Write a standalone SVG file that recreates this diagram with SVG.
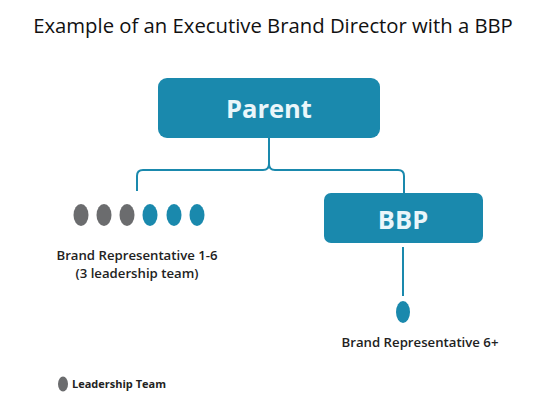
<svg xmlns="http://www.w3.org/2000/svg" width="550" height="406" viewBox="0 0 550 406">
<style>
.box{fill:#1a89ad}
.boxt{font-family:"Open Sans","Noto Sans",sans-serif;font-weight:700;fill:#eaf6fa;text-anchor:middle}
.lbl{font-family:"Open Sans","Noto Sans",sans-serif;font-weight:600;fill:#222;font-size:13.2px;text-anchor:middle}
.conn{fill:none;stroke:#1a89ad;stroke-width:2}
.gray{fill:#6b6c6e}
.blue{fill:#1a89ad}
</style>
<rect width="550" height="406" fill="#fff"/>
<text x="273" y="33" font-family="Open Sans,Noto Sans,sans-serif" font-size="20.3" fill="#111" text-anchor="middle">Example of an Executive Brand Director with a BBP</text>
<g id="connectors">
<path class="conn" d="M269,138 L269,164 Q269,170 263,170 L143,170 Q137,170 137,176 L137,191"/>
<path class="conn" d="M269,164 Q269,170 275,170 L398,170 Q404,170 404,176 L404,193"/>
<path class="conn" d="M403,247 L403,296"/>
</g>
<g id="parent">
<rect class="box" x="158" y="78" width="222" height="60" rx="9"/>
<text class="boxt" x="269" y="118" font-size="25.5">Parent</text>
</g>
<g id="bbp">
<rect class="box" x="324" y="193" width="159" height="50" rx="7"/>
<text class="boxt" x="403" y="229" font-size="25.5">BBP</text>
</g>
<g id="reps1-6">
<ellipse class="gray" cx="81" cy="215" rx="7.5" ry="11"/>
<ellipse class="gray" cx="104" cy="215" rx="7.5" ry="11"/>
<ellipse class="gray" cx="127" cy="215" rx="7.5" ry="11"/>
<ellipse class="blue" cx="150" cy="215" rx="7.5" ry="11"/>
<ellipse class="blue" cx="174" cy="215" rx="7.5" ry="11"/>
<ellipse class="blue" cx="197" cy="215" rx="7.5" ry="11"/>
<text class="lbl" x="137" y="260">Brand Representative 1-6</text>
<text class="lbl" x="137" y="278">(3 leadership team)</text>
</g>
<g id="rep6plus">
<ellipse class="blue" cx="403" cy="312" rx="7" ry="11"/>
<text class="lbl" x="420" y="347">Brand Representative 6+</text>
</g>
<g id="legend">
<ellipse class="gray" cx="63" cy="384" rx="5" ry="7.5"/>
<text x="72" y="388" font-family="Open Sans,Noto Sans,sans-serif" font-weight="700" font-size="11" fill="#222">Leadership Team</text>
</g>
</svg>
